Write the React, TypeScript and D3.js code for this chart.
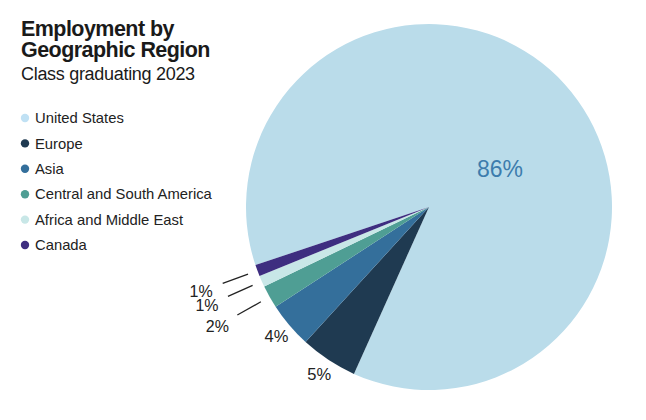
import React from "react";
import * as d3 from "d3";

const regions = [
  "United States",
  "Europe",
  "Asia",
  "Central and South America",
  "Africa and Middle East",
  "Canada",
];
const shares = [86, 5, 4, 2, 1, 1];
const sliceColors = ["#badcea", "#1f3a51", "#346f9b", "#4f9e94", "#c8e7e7", "#3e2e80"];
const legendColors = ["#c0e1f4", "#1f3a51", "#346f9b", "#4f9e94", "#c8e7e7", "#3e2e80"];

const W = 646;
const H = 420;
const cx = 429;
const cy = 207;
const r = 183;
const font = "'Liberation Sans', Arial, sans-serif";

export default function App() {
  const data = regions.map((name, i) => ({ name, value: shares[i], color: sliceColors[i] }));

  // US starts so that Europe begins just left of straight down
  const start = (-108.5 * Math.PI) / 180;
  const pie = d3
    .pie<any>()
    .sort(null)
    .value((d) => d.value)
    .startAngle(start)
    .endAngle(start + 2 * Math.PI);
  const arcs = pie(data);

  const arc = d3.arc<any>().innerRadius(0).outerRadius(r);
  const pt = (a: number, rad: number) => [Math.sin(a) * rad, -Math.cos(a) * rad];

  const legendY = d3.scalePoint().domain(regions).range([118, 245]);

  return (
    <svg width={W} height={H} style={{ position: "absolute", left: 0, top: 0, background: "#fff" }} fontFamily={font}>
      <text x={21} y={36} fontSize={21.5} fontWeight="bold" fill="#1a1a1a" letterSpacing={-0.55}>
        Employment by
      </text>
      <text x={21} y={57} fontSize={21.5} fontWeight="bold" fill="#1a1a1a" letterSpacing={-0.55}>
        Geographic Region
      </text>
      <text x={21} y={80} fontSize={18} fill="#1a1a1a" letterSpacing={-0.3}>
        Class graduating 2023
      </text>

      <g>
        {regions.map((name, i) => (
          <g key={name} transform={`translate(0,${legendY(name)})`}>
            <circle cx={25} cy={0} r={4.2} fill={legendColors[i]} />
            <text x={35} y={0} dy="0.35em" fontSize={14.8} fill="#222">
              {name}
            </text>
          </g>
        ))}
      </g>

      <g transform={`translate(${cx},${cy})`}>
        {arcs.map((a) => (
          <path key={a.data.name} d={arc(a) as string} fill={a.data.color} />
        ))}
        {arcs.map((a) => {
          const mid = (a.startAngle + a.endAngle) / 2;
          if (a.data.value >= 50) {
            return (
              <text key={"l" + a.data.name} x={71} y={-30} textAnchor="middle" fontSize={23} fill="#3d7cad">
                {a.data.value}%
              </text>
            );
          }
          if (a.data.value < 3) {
            const [x1, y1] = pt(mid, r + 10);
            const [x2, y2] = pt(mid, r + 37);
            const [tx, ty] = pt(mid, r + 60);
            return (
              <g key={"l" + a.data.name}>
                <line x1={x1} y1={y1} x2={x2} y2={y2} stroke="#222" strokeWidth={1.3} />
                <text x={tx} y={ty} dy="0.35em" textAnchor="middle" fontSize={16} fill="#222">
                  {a.data.value}%
                </text>
              </g>
            );
          }
          const [tx, ty] = pt(mid, r + 17);
          return (
            <text key={"l" + a.data.name} x={tx} y={ty} dy="0.35em" textAnchor="middle" fontSize={16.5} fill="#222">
              {a.data.value}%
            </text>
          );
        })}
      </g>
    </svg>
  );
}
